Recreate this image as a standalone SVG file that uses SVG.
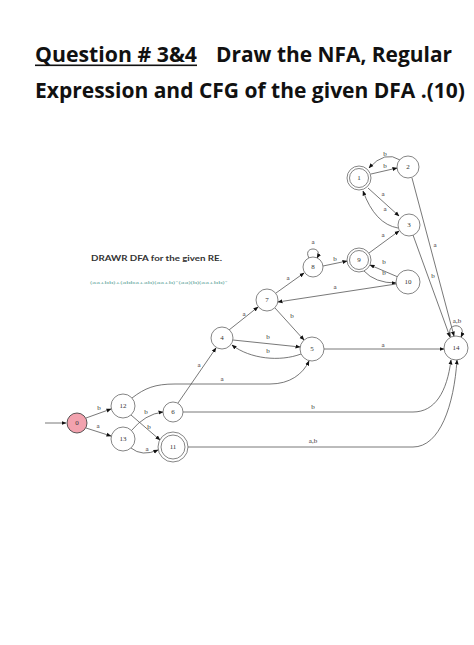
<svg xmlns="http://www.w3.org/2000/svg" width="474" height="645" viewBox="0 0 474 645">
<defs>
<marker id="ah" viewBox="0 0 10 10" refX="9" refY="5" markerWidth="5" markerHeight="5" orient="auto" markerUnits="userSpaceOnUse">
<path d="M0,1 L10,5 L0,9 z" fill="#111"/>
</marker>
<style>
.title{font-family:"Open Sans","Liberation Sans",sans-serif;font-weight:700;font-size:19.5px;fill:#111}
.n circle{fill:#fff;stroke:#666;stroke-width:0.8}
.n text{font-family:"Liberation Serif",serif;font-size:7px;fill:#333;text-anchor:middle;dominant-baseline:central}
.e path{fill:none;stroke:#555;stroke-width:0.8;marker-end:url(#ah)}
.e text{font-family:"Liberation Serif",serif;font-size:7px;fill:#333;text-anchor:middle}
</style>
</defs>
<rect width="474" height="645" fill="#fff"/>
<g id="title">
<text class="title" transform="translate(35,62) scale(1,1.13)" textLength="162" lengthAdjust="spacingAndGlyphs">Question # 3&amp;4</text>
<rect x="35" y="64.5" width="162" height="1.6" fill="#111"/>
<text class="title" transform="translate(216,62) scale(1,1.13)" textLength="236" lengthAdjust="spacingAndGlyphs">Draw the NFA, Regular</text>
<text class="title" transform="translate(35,98) scale(1,1.13)" textLength="430" lengthAdjust="spacingAndGlyphs">Expression and CFG of the given DFA .(10)</text>
</g>
<g id="caption">
<text x="91" y="261" font-family="Lato,'Liberation Sans',sans-serif" font-weight="700" font-size="7.5" fill="#333" textLength="131" lengthAdjust="spacingAndGlyphs">DRAWR DFA for the given RE.</text>
<text x="90" y="284" font-family="Lato,'Liberation Sans',sans-serif" font-size="4" fill="#6aa9a0" textLength="138" lengthAdjust="spacingAndGlyphs">(aa+bb)+(abba+ab)(aa+b)*(aa)(b)(aa+bb)*</text>
</g>
<g id="connectors" class="e">
<path d="M45,423 L66,423"/>
<path d="M86,418 L111,409"/><text x="99" y="410">b</text>
<path d="M86,428 L111,436"/><text x="98" y="428">a</text>
<path d="M131,431 Q145,414 163,412"/><text x="146" y="414">b</text>
<path d="M131,415 L160,440"/><text x="149" y="429">b</text>
<path d="M131,448 Q142,457 158,450"/><text x="147" y="451">a</text>
<path d="M132,398 C145,388 155,384 175,384 L270,384 C290,384 303,374 309,361"/><text x="222" y="381">a</text>
<path d="M178,403 L216,348"/><text x="199" y="367">a</text>
<path d="M183,412 L413,412 C435,412 447,392 451,360"/><text x="313" y="409">b</text>
<path d="M188,447 L413,447 C440,447 454,405 457,360"/><text x="313" y="443">a,b</text>
<path d="M229,330 L258,307"/><text x="244" y="316">a</text>
<path d="M233,340 L300,347"/><text x="268" y="339">b</text>
<path d="M301,354 C280,362 250,359 232,345"/><text x="268" y="353">b</text>
<path d="M275,308 L304,340"/><text x="292" y="318">b</text>
<path d="M276,293 L304,273"/><text x="288" y="280">a</text>
<path d="M309,258 C302,246 324,246 317,258"/><text x="313" y="244">a</text>
<path d="M323,266 L347,261"/><text x="335" y="261">b</text>
<path d="M369,253 L399,231"/><text x="383" y="237">a</text>
<path d="M398,277 L370,265"/><text x="384" y="264">b</text>
<path d="M364,271 Q375,283 396,283"/><text x="384" y="275">b</text>
<path d="M396,284 L278,302"/><text x="335" y="289">a</text>
<path d="M324,349 L444,349"/><text x="383" y="347">a</text>
<path d="M413,235 L450,337"/><text x="433" y="278">b</text>
<path d="M412,178 L454,336"/><text x="435" y="247">a</text>
<path d="M451,337 C444,322 468,322 461,337"/><text x="457" y="323">a,b</text>
<path d="M371,174 L397,168"/><text x="385" y="168">b</text>
<path d="M400,160 Q385,150 369,168"/><text x="385" y="156">b</text>
<path d="M368,188 L399,216"/><text x="383" y="196">a</text>
<path d="M398,228 Q375,224 363,191"/><text x="385" y="211">a</text>
</g>
<g id="n0" class="n"><circle cx="77" cy="423" r="10" style="fill:#f2a2ae;stroke:#333"/><text x="77" y="423">0</text></g>
<g id="n12" class="n"><circle cx="123" cy="406" r="12"/><text x="123" y="406">12</text></g>
<g id="n13" class="n"><circle cx="123" cy="439" r="12"/><text x="123" y="439">13</text></g>
<g id="n6" class="n"><circle cx="173" cy="412" r="10"/><text x="173" y="412">6</text></g>
<g id="n11" class="n"><circle cx="173" cy="447" r="15"/><circle cx="173" cy="447" r="12"/><text x="173" y="447">11</text></g>
<g id="n4" class="n"><circle cx="222" cy="338" r="11"/><text x="222" y="338">4</text></g>
<g id="n5" class="n"><circle cx="312" cy="349" r="12"/><text x="312" y="349">5</text></g>
<g id="n7" class="n"><circle cx="267" cy="300" r="11"/><text x="267" y="300">7</text></g>
<g id="n8" class="n"><circle cx="313" cy="267" r="10"/><text x="313" y="267">8</text></g>
<g id="n9" class="n"><circle cx="359" cy="260" r="12"/><circle cx="359" cy="260" r="9.5"/><text x="359" y="260">9</text></g>
<g id="n10" class="n"><circle cx="408" cy="282" r="12"/><text x="408" y="282">10</text></g>
<g id="n3" class="n"><circle cx="409" cy="225" r="11"/><text x="409" y="225">3</text></g>
<g id="n2" class="n"><circle cx="408" cy="167" r="11"/><text x="408" y="167">2</text></g>
<g id="n1" class="n"><circle cx="359" cy="178" r="12"/><circle cx="359" cy="178" r="9.5"/><text x="359" y="178">1</text></g>
<g id="n14" class="n"><circle cx="456" cy="348" r="12"/><text x="456" y="348">14</text></g>
</svg>
